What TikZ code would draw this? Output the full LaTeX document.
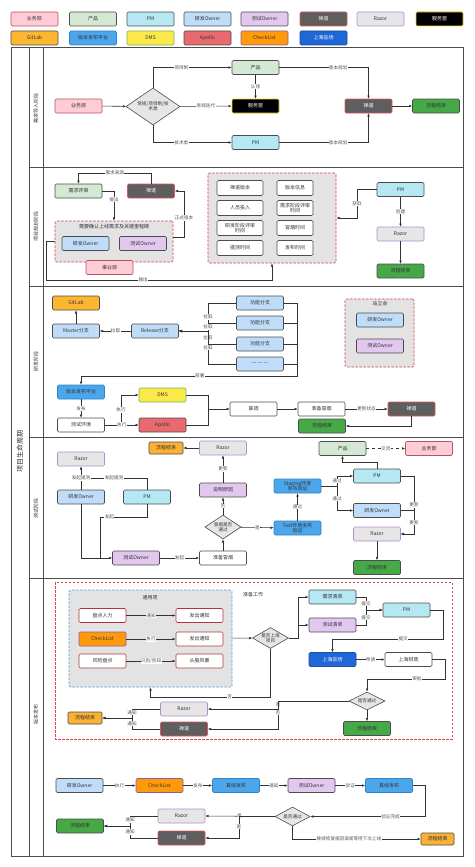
\documentclass[tikz,border=0pt]{standalone}
\usepackage{fontspec}
\setmainfont{Noto Sans CJK SC}
\usetikzlibrary{arrows.meta,shapes.geometric}

\definecolor{cline}{HTML}{4D4D4D}
\definecolor{ctext}{HTML}{333333}
\definecolor{cyw}{HTML}{FFCCD5}
\definecolor{cywed}{HTML}{B85460}
\definecolor{ccp}{HTML}{D5E8D4}
\definecolor{cpm}{HTML}{B5E8F2}
\definecolor{cdev}{HTML}{BFDDF9}
\definecolor{cqa}{HTML}{E2C8EE}
\definecolor{czt}{HTML}{5E5E5E}
\definecolor{czted}{HTML}{E0555D}
\definecolor{crz}{HTML}{E6E6E6}
\definecolor{crzed}{HTML}{B58CCB}
\definecolor{cfwced}{HTML}{F2D21B}
\definecolor{cgit}{HTML}{FDB62F}
\definecolor{cver}{HTML}{4CA6EC}
\definecolor{cvered}{HTML}{2E86C8}
\definecolor{cdms}{HTML}{FBE94A}
\definecolor{cdmsed}{HTML}{74B65A}
\definecolor{capo}{HTML}{E86A6E}
\definecolor{ccl}{HTML}{FF9A0A}
\definecolor{ccled}{HTML}{8E5BA8}
\definecolor{csh}{HTML}{1F66D6}
\definecolor{cshed}{HTML}{1A4FA8}
\definecolor{cdone}{HTML}{46A947}
\definecolor{cdoneo}{HTML}{FAB135}
\definecolor{cgrp}{HTML}{E3E3E3}
\definecolor{cred}{HTML}{E0414B}
\definecolor{cblue}{HTML}{5AA0DA}

\newcommand{\boxfont}{\fontsize{5}{5.8}\selectfont}
\newcommand{\lblfont}{\fontsize{4.6}{5.2}\selectfont}

\tikzset{
  box/.style={draw=cline, line width=0.6pt, rounded corners=1.2pt, minimum width=47pt, minimum height=14pt, inner sep=0.5pt, align=center, font=\boxfont, text=ctext},
  yw/.style={box, fill=cyw, draw=cywed},
  cp/.style={box, fill=ccp},
  pm/.style={box, fill=cpm},
  dev/.style={box, fill=cdev},
  qa/.style={box, fill=cqa},
  zt/.style={box, fill=czt, draw=czted, text=white},
  rz/.style={box, fill=crz, draw=crzed},
  fwc/.style={box, fill=black, draw=cfwced, text=white},
  git/.style={box, fill=cgit},
  ver/.style={box, fill=cver, draw=cvered},
  dms/.style={box, fill=cdms, draw=cdmsed},
  apo/.style={box, fill=capo},
  ckl/.style={box, fill=ccl, draw=ccled},
  sh/.style={box, fill=csh, draw=cshed, text=white},
  done/.style={box, fill=cdone},
  doneo/.style={box, fill=cdoneo, minimum width=34pt, minimum height=12pt},
  plain/.style={box, fill=white},
  plainr/.style={box, fill=white, draw=cred!80!black},
  cell/.style={box, fill=white, minimum height=15pt},
  dia/.style={diamond, aspect=1.7, draw=cline, fill=crz, line width=0.6pt, inner sep=0pt, align=center, font=\lblfont, text=ctext},
  grp/.style={draw=cred, dash pattern=on 2.5pt off 1.5pt, line width=0.7pt, fill=cgrp, rounded corners=1.5pt},
  lbl/.style={fill=white, inner sep=0.4pt, font=\lblfont, text=ctext!85},
  arr/.style={-{Latex[length=3.2pt,width=2.6pt]}, line width=0.55pt, draw=ctext},
  link/.style={line width=0.55pt, draw=ctext},
  lane/.style={draw=cline, line width=0.8pt},
}

\begin{document}
\begin{tikzpicture}[x=1pt,y=-1pt]
\useasboundingbox (0,0) rectangle (474,867);
\fill[white] (0,0) rectangle (474,867);

% legend
\node[yw] (lgyw) at (34.5,19) {业务部};
\node[cp] (lgcp) at (93,19) {产品};
\node[pm] (lgpm) at (150.5,19) {PM};
\node[dev] (lgdev) at (207.5,19) {研发Owner};
\node[qa] (lgqa) at (264.5,19) {测试Owner};
\node[zt] (lgzt) at (323.5,19) {禅道};
\node[rz] (lgrz) at (380.5,19) {Razor};
\node[fwc] (lgfwc) at (439.5,19) {服务窗};
\node[git] (lggit) at (34.5,38) {GitLab};
\node[ver] (lgver) at (93,38) {版本发布平台};
\node[dms] (lgdms) at (150.5,38) {DMS};
\node[apo] (lgapo) at (207.5,38) {Apollo};
\node[ckl] (lgckl) at (264.5,38) {CheckList};
\node[sh] (lgsh) at (323.5,38) {上海驻场};

% frame and lanes
\draw[lane] (11,47) rectangle (463,856);
\draw[lane] (29,47) -- (29,856);
\draw[lane] (43,47) -- (43,856);
\foreach \y in {167,286,437,578}
  \draw[lane] (29,\y) -- (463,\y);
\node[rotate=90, font=\fontsize{7}{8}\selectfont, text=ctext] (life) at (20,451) {项目生命周期};
\node[rotate=90, font=\boxfont, text=ctext] (lane1) at (36,108) {需求导入阶段};
\node[rotate=90, font=\boxfont, text=ctext] (lane2) at (36,226) {项目规划阶段};
\node[rotate=90, font=\boxfont, text=ctext] (lane3) at (36,361) {研发阶段};
\node[rotate=90, font=\boxfont, text=ctext] (lane4) at (36,508) {测试阶段};
\node[rotate=90, font=\boxfont, text=ctext] (lane5) at (36,714) {版本发布};

% lane 1
\node[yw] (ryw) at (78.5,106) {业务部};
\node[dia, minimum width=54pt, minimum height=37pt] (rdia) at (153,106.5) {常规/项目制/技\\术类};
\node[cp] (rcp) at (255.5,67.5) {产品};
\node[fwc] (rfwc) at (255.5,106) {服务窗};
\node[pm] (rpm) at (255.5,142.5) {PM};
\node[zt] (rzt) at (368.5,106) {禅道};
\node[done] (rend) at (436,106) {流程结束};
\draw[arr] (ryw) -- (rdia);
\draw[arr] (rdia.north) |- node[lbl,pos=0.68]{项目制} (rcp);
\draw[arr] (rdia) -- node[lbl]{常规迭代} (rfwc);
\draw[arr] (rdia.south) |- node[lbl,pos=0.68]{技术类} (rpm);
\draw[arr] (rcp) -- node[lbl]{认领} (rfwc);
\draw[arr] (rcp) -| node[lbl,pos=0.33]{版本规划} (rzt);
\draw[arr] (rpm) -| node[lbl,pos=0.33]{版本规划} (rzt);
\draw[arr] (rzt) -- (rend);

% lane 2
\node[cp] (pps) at (78.5,191) {需求评审};
\node[zt] (pzt) at (151,191) {禅道};
\node[grp, minimum width=118pt, minimum height=41pt] (pg1) at (114,241.5) {};
\node[font=\boxfont, text=ctext] (pg1t) at (114,227) {需要确认上线需求及关键里程碑};
\node[dev] (pdev) at (85.5,243.5) {研发Owner};
\node[qa] (pqa) at (143,243.5) {测试Owner};
\node[yw] (psyb) at (109.5,267.5) {事业部};
\node[grp, minimum width=128pt, minimum height=90pt] (pg2) at (272,218) {};
\node[cell, minimum width=46pt] (pc1) at (240,188) {禅道版本};
\node[cell, minimum width=36pt] (pc2) at (295,188) {版本信息};
\node[cell, minimum width=46pt] (pc3) at (240,208) {人员投入};
\node[cell, minimum width=36pt] (pc4) at (295,208) {需求阶段评审\\时间};
\node[cell, minimum width=46pt] (pc5) at (240,228) {研发阶段评审\\时间};
\node[cell, minimum width=36pt] (pc6) at (295,228) {冒烟时间};
\node[cell, minimum width=46pt] (pc7) at (240,248) {提测时间};
\node[cell, minimum width=36pt] (pc8) at (295,248) {发布时间};
\node[pm] (ppm) at (400.5,189.5) {PM};
\node[rz] (prz) at (400.5,234) {Razor};
\node[done] (pend) at (400.5,271) {流程结束};
\draw[arr] (pzt.north) -- (151,173) -- node[lbl]{需求来源} (78.5,173) -- (pps.north);
\draw[arr] (pps.east) -| node[lbl,pos=0.65]{提出} (pg1.north);
\draw[arr] ([yshift=4pt]pg1.east) -| node[lbl,pos=0.71]{正式版本} (184,191) -- (pzt.east);
\draw[arr] (pg1.west) -- (46,241.5) -- (46,280) -- node[lbl,pos=0.43]{输出} (272,280) -- (pg2.south);
\draw[arr] (ppm.west) -- (357,189.5) -- node[lbl]{获取} (357,218) -- (pg2.east);
\draw[arr] (ppm) -- node[lbl]{创建} (prz);
\draw[arr] (prz) -- (pend);

% lane 3
\node[git] (dgit) at (76,303) {GitLab};
\node[dev] (dmas) at (76,331) {Master分支};
\node[dev] (drel) at (155,331) {Release分支};
\node[dev] (df1) at (260,303) {功能分支};
\node[dev] (df2) at (260,323) {功能分支};
\node[dev] (df3) at (260,344) {功能分支};
\node[dev] (df4) at (260,364) {— — —};
\node[grp, minimum width=69pt, minimum height=68pt] (dstand) at (379.5,333) {};
\node[font=\boxfont, text=ctext] (dstandt) at (380,304) {站立会};
\node[dev] (ddev) at (380,320) {研发Owner};
\node[qa] (dqa) at (380,346) {测试Owner};
\node[ver] (dver) at (81,392) {版本发布平台};
\node[plain] (denv) at (81,425) {测试环境};
\node[dms] (ddms) at (162.5,395) {DMS};
\node[apo] (dapo) at (162.5,425) {Apollo};
\node[plain] (dlt) at (253.5,409) {联调};
\node[plain] (dmy) at (321.5,409) {准备冒烟};
\node[zt] (dzt) at (411.5,409) {禅道};
\node[done] (dend) at (322,426) {流程结束};
\draw[arr] (dmas) -- (dgit);
\draw[arr] (drel) -- node[lbl]{拉取} (dmas);
\foreach \n/\y in {1/303,2/323,3/344,4/364}
  \draw[arr] (df\n.west) -- (208,\y) -- node[lbl]{拉取} (208,331) -- (drel.east);
\foreach \n/\y in {2/323,3/344,4/364}
  \draw[link] (df\n.east) -- (297,\y);
\draw[arr] (df1.east) -- (297,303) -- (297,376) -- node[lbl,pos=0.45]{部署} (81,376) -- (dver.north);
\draw[arr] (dver) -- node[lbl]{发布} (denv);
\draw[arr] (denv.east) -- (121,425) -- node[lbl]{执行} (121,395) -- (ddms.west);
\draw[arr] (denv) -- node[lbl]{执行} (dapo);
\coordinate (djoin) at (208,409);
\draw[link] (ddms.east) -- (208,395) -- (208,425) -- (dapo.east);
\draw[arr] (djoin) -- (dlt);
\draw[arr] (dlt) -- (dmy);
\draw[arr] (dmy) -- node[lbl]{更新状态} (dzt);
\draw[arr] (dzt.south) |- (dend.east);

% lane 4
\node[rz] (trz1) at (81,459) {Razor};
\node[dev] (tdev1) at (81,497) {研发Owner};
\node[pm] (tpm1) at (147,497) {PM};
\node[qa] (tqa) at (136,558) {测试Owner};
\node[plain] (tmy) at (223,558) {准备冒烟};
\node[dia, minimum width=36pt, minimum height=24pt] (tdia) at (223,527) {冒烟是否\\通过};
\node[qa] (tsm) at (223,490) {说明原因};
\node[rz] (trz2) at (223,448) {Razor};
\node[doneo] (tend1) at (166,448) {流程结束};
\node[ver] (ttest) at (297.5,528) {Test环境发布\\验证};
\node[ver] (tstg) at (297.5,486) {Staging环境\\发布验证};
\node[pm] (tpm2) at (377,476) {PM};
\node[dev] (tdev2) at (377,510.5) {研发Owner};
\node[cp] (tcp) at (342.5,448.5) {产品};
\node[yw] (tyw) at (429,448.5) {业务部};
\node[rz] (trz3) at (377,534) {Razor};
\node[done] (tend2) at (377,567.5) {流程结束};
\coordinate (tjoin) at (81,478);
\draw[arr] (tdev1) -- (trz1);
\draw[link] (tpm1.north) |- node[lbl,pos=0.75]{发起提测} (tjoin);
\node[lbl] (tlbl1) at (tjoin) {发起提测};
\draw[arr] (tdev1.south) |- (tqa.west);
\draw[link] (tpm1.south) |- node[lbl,pos=0.9]{发起} (100,517) -- (100,558);
\draw[arr] (tqa) -- node[lbl]{发起} (tmy);
\draw[arr] (tmy) -- (tdia);
\draw[arr] (tdia) -- node[lbl]{否} (tsm);
\draw[arr] (tsm) -- node[lbl]{更新} (trz2);
\draw[arr] (trz2) -- (tend1);
\draw[arr] (tdia) -- node[lbl]{是} (ttest);
\draw[arr] (ttest) -- node[lbl]{通过} (tstg);
\draw[arr] (tstg.east) -- (337,486) -- node[lbl]{通过} (337,476) -- (tpm2.west);
\draw[arr] (tstg.east) -- (337,486) -- node[lbl]{通过} (337,510.5) -- (tdev2.west);
\draw[arr] (tpm2.north) -- (377,462) -| (tcp.south);
\draw[arr, dashed] (tcp) -- node[lbl]{交流} (tyw);
\draw[arr] (tpm2.east) -- (414,476) -- node[lbl]{更新} (414,534) -- (trz3.east);
\draw[arr] (tdev2.east) -- (414,510.5) -- node[lbl]{更新} (414,534) -- (trz3.east);
\draw[arr] (trz3) -- (tend2);

% lane 5
\draw[draw=cred, dash pattern=on 2.5pt off 1.5pt, line width=0.7pt] (55,582) rectangle (452,739);
\node[font=\boxfont, text=ctext] (gprep) at (253,595) {准备工作};
\node[grp, draw=cblue, minimum width=163pt, minimum height=97pt] (ginner) at (150.5,638.5) {};
\node[font=\boxfont, text=ctext] (gcommon) at (150,598) {通用项};
\node[plainr] (gpd) at (102.5,615.5) {盘点人力};
\node[plainr] (gtz1) at (199.5,615.5) {发出通知};
\node[ckl] (gcl) at (102.5,639) {CheckList};
\node[plainr] (gtz2) at (199.5,639) {发出通知};
\node[plainr] (gfx) at (102.5,661) {风险盘点};
\node[plainr] (gtn) at (199.5,661) {头脑风暴};
\node[dia, minimum width=36pt, minimum height=21pt] (gdia1) at (270.5,638) {是否上海\\项目};
\node[pm] (gxq) at (332.5,597) {需求清单};
\node[qa] (gcs) at (332.5,625) {测试清单};
\node[pm] (gpm) at (406.5,610) {PM};
\node[sh] (gsh) at (332.5,659.5) {上海驻场};
\node[plain] (gcz) at (408.5,659.5) {上海财政};
\node[dia, minimum width=36pt, minimum height=18pt] (gdia2) at (367,701) {是否通过};
\node[done] (gend1) at (367,728.5) {流程结束};
\node[rz] (grz) at (184,709) {Razor};
\node[zt] (gzt) at (184,729) {禅道};
\node[doneo] (gend2) at (85,718) {流程结束};
\draw[arr] (gpd) -- node[lbl]{通知} (gtz1);
\draw[arr] (gcl) -- node[lbl]{执行} (gtz2);
\draw[arr] (gfx) -- node[lbl]{识别/告知} (gtn);
\draw[arr] (ginner) -- (gdia1);
\draw[arr] (gdia1.east) -- (298,638) |- (gxq.west);
\draw[arr] (gdia1.east) -- (298,638) |- (gcs.west);
\draw[arr] (gxq.east) -- (366,597) -- node[lbl]{提交} (366,610) -- (gpm.west);
\draw[arr] (gcs.east) -- (366,625) -- node[lbl]{提交} (366,610) -- (gpm.west);
\draw[arr] (gpm.east) -- (443,610) |- node[lbl,pos=0.68]{提交} (332.5,639) -- (gsh.north);
\draw[arr] (gsh) -- node[lbl]{申请} (gcz);
\draw[arr] (gcz.east) -- (445,659.5) |- node[lbl,pos=0.68]{审批} (367,679) -- (gdia2.north);
\draw[arr] (gdia2) -- (gend1);
\draw[arr] (gdia1.south) -- (270.5,697) -| node[lbl,pos=0.17]{否} (ginner.south);
\draw[arr] (gdia2.west) -- (278,701) |- node[lbl,pos=0.25]{否} (grz.east);
\draw[arr] (gdia2.west) -- (278,701) |- node[lbl,pos=0.21]{否} (gzt.east);
\draw[arr] (grz.west) -- (132,709) |- node[lbl,pos=0.2]{通知} (gend2.east);
\draw[arr] (gzt.west) -- (132,729) |- node[lbl,pos=0.25]{通知} (gend2.east);

% lane 5, go live
\node[dev] (fdev) at (79.5,785.5) {研发Owner};
\node[ckl] (fcl) at (159.5,785.5) {CheckList};
\node[ver] (ffb1) at (236,785.5) {真线发布};
\node[qa] (fqa) at (311.5,785.5) {测试Owner};
\node[ver] (ffb2) at (389,785.5) {真线发布};
\node[dia, minimum width=35pt, minimum height=19pt] (fdia) at (292.5,816.5) {是否通过};
\node[rz] (frz) at (181.5,816) {Razor};
\node[zt] (fzt) at (181.5,838) {禅道};
\node[done] (fend1) at (80,826) {流程结束};
\node[doneo, minimum width=33pt] (fend2) at (437.5,839) {流程结束};
\draw[arr] (fdev) -- node[lbl]{执行} (fcl);
\draw[arr] (fcl) -- node[lbl]{发布} (ffb1);
\draw[arr] (ffb1) -- node[lbl]{通知} (fqa);
\draw[arr] (fqa) -- node[lbl]{验证} (ffb2);
\draw[arr] (ffb2.east) -- (425,785.5) |- node[lbl,pos=0.65]{验证完成} (fdia.east);
\draw[arr] (fdia.west) -- node[lbl,pos=0.51]{是} (frz.east);
\draw[arr] (fdia.west) -- (239,816.5) |- node[lbl,pos=0.24]{是} (fzt.east);
\draw[arr] (frz.west) -- (130,816) |- node[lbl,pos=0.2]{通知} (fend1.east);
\draw[arr] (fzt.west) -- (130,838) |- node[lbl,pos=0.25]{通知} (fend1.east);
\draw[arr] (fdia.south) |- node[lbl,pos=0.72]{继续修复或回滚或等待下次上线} (fend2.west);
\end{tikzpicture}
\end{document}
